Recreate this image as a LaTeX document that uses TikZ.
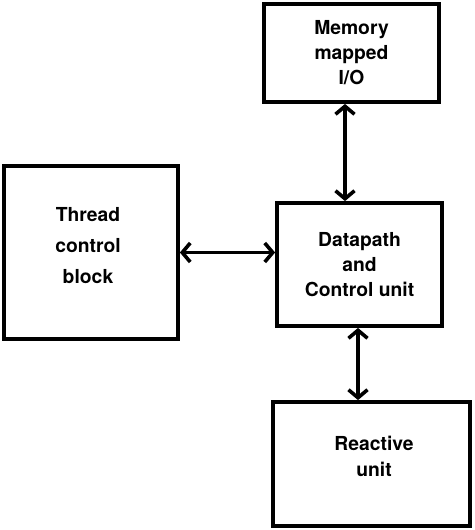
\documentclass[tikz,border=0pt]{standalone}
\usepackage{fontspec}
\setmainfont{TeX Gyre Heros}
\usetikzlibrary{arrows.meta}
\begin{document}
\begin{tikzpicture}[x=1pt,y=-1pt,
  box/.style={draw=black,line width=3.8pt,rectangle,inner sep=0pt},
  txt/.style={align=center,font=\fontsize{19.3}{25}\selectfont\bfseries,inner sep=0pt},
  link/.style={line width=3.6pt,{Straight Barb[length=8pt,width=19pt,line width=3.6pt]}-{Straight Barb[length=8pt,width=19pt,line width=3.6pt]}}]
\useasboundingbox (0,0) rectangle (474,530);
\node[box,minimum width=175pt,minimum height=98pt] (mem) at (351.5,53) {};
\node[txt] (memt) at (mem.center) {Memory\\mapped\\I/O};
\node[box,minimum width=174pt,minimum height=173pt] (tcb) at (91,252.5) {};
\node[txt,font=\fontsize{19.3}{31}\selectfont\bfseries] (tcbt) at (88,246) {Thread\\control\\block};
\node[box,minimum width=165pt,minimum height=123pt] (dp) at (359.5,264.5) {};
\node[txt] (dpt) at (dp.center) {Datapath\\and\\Control unit};
\node[box,minimum width=197pt,minimum height=124pt] (ru) at (371.5,464) {};
\node[txt,font=\fontsize{19.3}{26}\selectfont\bfseries] (rut) at (374,456) {Reactive\\unit};
\coordinate (a1) at (345,0);
\coordinate (a3) at (358,0);
\draw[link] (mem.south -| a1) -- (dp.north -| a1);
\draw[link] (tcb.east) -- (dp.west |- tcb.east);
\draw[link] (dp.south -| a3) -- (ru.north -| a3);
\end{tikzpicture}
\end{document}
